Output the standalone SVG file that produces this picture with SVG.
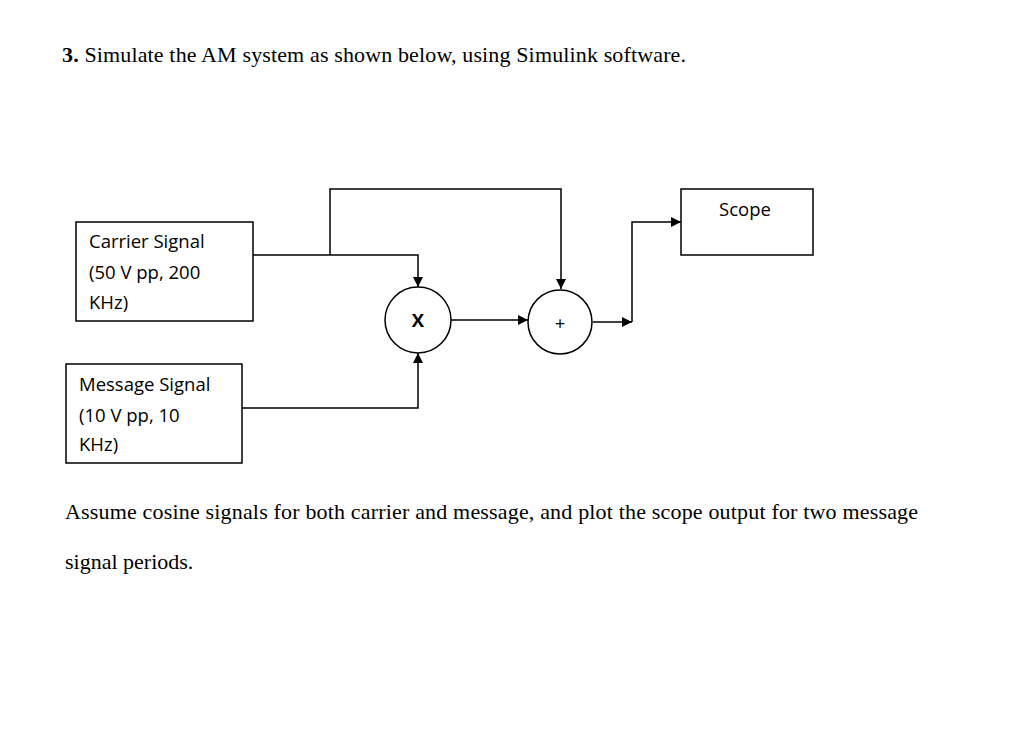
<svg xmlns="http://www.w3.org/2000/svg" width="1024" height="752" viewBox="0 0 1024 752">
<defs>
<style>
.b{fill:#fff;stroke:#000;stroke-width:1.5}
.l{fill:none;stroke:#000;stroke-width:1.5}
.s{font-family:"Open Sans","Liberation Sans",sans-serif;font-size:18.5px;fill:#000}
.t{font-family:"Liberation Serif",serif;font-size:22px;fill:#000}
</style>
<marker id="a" viewBox="0 0 10 10" refX="10" refY="5" markerWidth="11" markerHeight="10" markerUnits="userSpaceOnUse" orient="auto"><path d="M0,0L10,5L0,10z" fill="#000"/></marker>
</defs>
<rect width="1024" height="752" fill="#fff"/>
<text class="t" x="62" y="62" textLength="624"><tspan font-weight="bold">3.</tspan> Simulate the AM system as shown below, using Simulink software.</text>
<g id="connectors">
<path class="l" d="M253,255H418V287" marker-end="url(#a)"/>
<path class="l" d="M330,255V189H561V289" marker-end="url(#a)"/>
<path class="l" d="M242,408H418V353" marker-end="url(#a)"/>
<path class="l" d="M451,320H528" marker-end="url(#a)"/>
<path class="l" d="M593,322H632" marker-end="url(#a)"/>
<path class="l" d="M632,322V222H681" marker-end="url(#a)"/>
</g>
<g id="carrier"><rect class="b" x="76" y="222" width="177" height="99"/>
<text class="s" x="89" y="248">Carrier Signal</text><text class="s" x="89" y="279">(50 V pp, 200</text><text class="s" x="89" y="309">KHz)</text></g>
<g id="message"><rect class="b" x="66" y="364" width="176" height="99"/>
<text class="s" x="79" y="391">Message Signal</text><text class="s" x="79" y="422">(10 V pp, 10</text><text class="s" x="79" y="451">KHz)</text></g>
<g id="mult"><circle class="b" cx="418" cy="320" r="33"/><text class="s" x="418" y="327" text-anchor="middle" font-weight="bold">X</text></g>
<g id="sum"><circle class="b" cx="560" cy="322" r="32"/><text class="s" x="560" y="330" text-anchor="middle" font-size="21">+</text></g>
<g id="scope"><rect class="b" x="681" y="189" width="132" height="66"/><text class="s" x="745" y="216" text-anchor="middle">Scope</text></g>
<text class="t" x="65" y="519" textLength="853">Assume cosine signals for both carrier and message, and plot the scope output for two message</text>
<text class="t" x="65" y="569">signal periods.</text>
</svg>
